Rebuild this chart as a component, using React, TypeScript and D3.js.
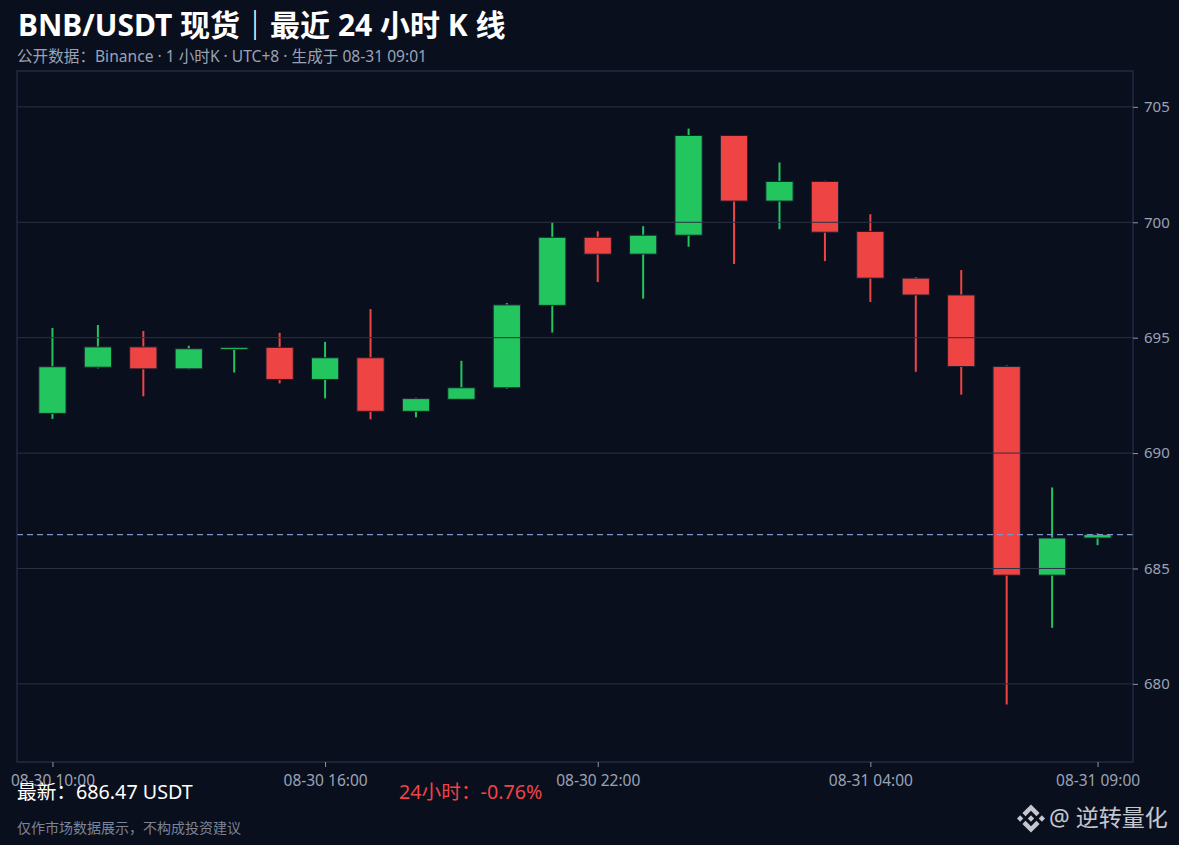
import { useEffect, useMemo, useRef } from 'react';
import * as d3 from 'd3';

const width = 1179;
const height = 845;
const margin = { top: 71, right: 46, bottom: 83, left: 17 };
const font = '"Noto Sans", "Noto Sans CJK SC", sans-serif';

// 1 小时 K 线, 08-30 10:00 ~ 08-31 09:00
const times = [
    '08-30 10:00', '08-30 11:00', '08-30 12:00', '08-30 13:00', '08-30 14:00', '08-30 15:00',
    '08-30 16:00', '08-30 17:00', '08-30 18:00', '08-30 19:00', '08-30 20:00', '08-30 21:00',
    '08-30 22:00', '08-30 23:00', '08-31 00:00', '08-31 01:00', '08-31 02:00', '08-31 03:00',
    '08-31 04:00', '08-31 05:00', '08-31 06:00', '08-31 07:00', '08-31 08:00', '08-31 09:00',
];
const opens = [691.72, 693.72, 694.60, 693.65, 694.51, 694.58, 693.19, 694.13, 691.81, 692.33, 692.83, 696.40,
    699.35, 698.62, 699.44, 703.76, 700.92, 701.77, 699.60, 697.58, 696.85, 693.75, 684.71, 686.32];
const highs = [695.42, 695.55, 695.29, 694.65, 694.60, 695.21, 694.82, 696.24, 692.40, 694.00, 696.50, 700.00,
    699.61, 699.83, 704.06, 703.78, 702.59, 701.80, 700.35, 697.63, 697.93, 693.80, 688.51, 686.52];
const lows = [691.48, 693.67, 692.46, 693.63, 693.49, 693.02, 692.37, 691.46, 691.55, 692.31, 692.79, 695.22,
    697.41, 696.69, 698.94, 698.19, 699.70, 698.32, 696.55, 693.52, 692.53, 679.11, 682.43, 686.01];
const closes = [693.74, 694.60, 693.65, 694.52, 694.58, 693.19, 694.13, 691.81, 692.36, 692.83, 696.42, 699.35,
    698.62, 699.44, 703.76, 700.92, 701.77, 699.57, 697.58, 696.85, 693.75, 684.71, 686.32, 686.47];

const yTickValues = [680, 685, 690, 695, 700, 705];
const xTickLabels = ['08-30 10:00', '08-30 16:00', '08-30 22:00', '08-31 04:00', '08-31 09:00'];

const UP = '#22c55e';
const DOWN = '#ef4444';
const BG = '#0a0f1e';

export default function App() {
    const xAxisRef = useRef<SVGGElement>(null);
    const yAxisRef = useRef<SVGGElement>(null);
    const boundsWidth = width - margin.left - margin.right;
    const boundsHeight = height - margin.top - margin.bottom;

    const candles = times.map((t, i) => ({ t, o: opens[i], h: highs[i], l: lows[i], c: closes[i] }));

    const xScale = useMemo(() => d3.scalePoint<string>()
        .domain(times)
        .range([0, boundsWidth])
        .padding(0.78), [boundsWidth]);

    const yScale = useMemo(() => {
        const lo = d3.min(lows) || 0;
        const hi = d3.max(highs) || 0;
        const pad = (hi - lo) * 0.1;
        return d3.scaleLinear().domain([lo - pad, hi + pad]).range([boundsHeight, 0]);
    }, [boundsHeight]);

    const bodyW = xScale.step() * 0.6;
    const last = closes[closes.length - 1];
    const change = (last / opens[0] - 1) * 100;

    useEffect(() => {
        const gx = d3.select(xAxisRef.current);
        gx.selectAll('*').remove();
        gx.call(d3.axisBottom(xScale).tickValues(xTickLabels).tickSize(5).tickPadding(8));
        gx.select('.domain').remove();
        gx.selectAll('.tick line').attr('stroke', '#8d96aa');
        gx.selectAll('.tick text').attr('fill', '#9aa3b6').style('font-size', '15.5px').style('font-family', font);

        const gy = d3.select(yAxisRef.current);
        gy.selectAll('*').remove();
        gy.call(d3.axisRight(yScale).tickValues(yTickValues).tickSize(5).tickPadding(6));
        gy.select('.domain').remove();
        gy.selectAll('.tick line').attr('stroke', '#8d96aa');
        gy.selectAll('.tick text').attr('fill', '#9aa3b6').style('font-size', '15px').style('font-family', font);
    }, [xScale, yScale]);

    return (
        <svg width={width} height={height} style={{ position: 'absolute', left: 0, top: 0, display: 'block' }}
            fontFamily={font}>
            <rect width={width} height={height} fill={BG} />

            <text x={18} y={36} fill="#ffffff" fontSize={30} fontWeight={700}>BNB/USDT 现货｜最近 24 小时 K 线</text>
            <text x={17} y={62} fill="#9aa3b6" fontSize={15.6}>公开数据：Binance · 1 小时K · UTC+8 · 生成于 08-31 09:01</text>

            <g transform={`translate(${margin.left},${margin.top})`}>
                {candles.map((d) => {
                    const x = xScale(d.t) || 0;
                    const color = d.c >= d.o ? UP : DOWN;
                    const top = yScale(Math.max(d.o, d.c));
                    const bottom = yScale(Math.min(d.o, d.c));
                    return (
                        <g key={d.t}>
                            <line x1={x} x2={x} y1={yScale(d.h)} y2={yScale(d.l)} stroke={color} strokeWidth={2} />
                            <rect x={x - bodyW / 2} y={top} width={bodyW} height={Math.max(bottom - top, 2)}
                                fill={color} stroke="#1c2131" strokeWidth={1} />
                        </g>
                    );
                })}
                {yTickValues.map((v) => (
                    <line key={v} x1={0} x2={boundsWidth} y1={yScale(v)} y2={yScale(v)} stroke="#2b3246" strokeWidth={1} />
                ))}
                <line x1={0} x2={boundsWidth} y1={yScale(last)} y2={yScale(last)}
                    stroke="#7d95c8" strokeWidth={1.3} strokeDasharray="6 4" />
                <rect x={0} y={0} width={boundsWidth} height={boundsHeight} fill="none" stroke="#2e3650" strokeWidth={1} />
                <g ref={xAxisRef} transform={`translate(0,${boundsHeight})`} />
                <g ref={yAxisRef} transform={`translate(${boundsWidth},0)`} />
            </g>

            <text x={17} y={799} fill="#ffffff" fontSize={19.7}>最新：{last.toFixed(2)} USDT</text>
            <text x={399} y={799} fill={DOWN} fontSize={19.7}>24小时：{change.toFixed(2)}%</text>
            <text x={17} y={833} fill="#7c8496" fontSize={14}>仅作市场数据展示，不构成投资建议</text>

            <g opacity={0.85} fill="#e6e8ee">
                <g transform="translate(1017,804.5) scale(0.221)">
                    <path d="M38.73 53.2l24.59-24.58 24.6 24.6 14.3-14.31L63.32 0 24.42 38.9l14.31 14.3zM0 63.31l14.3-14.31 14.31 14.31-14.31 14.3zm38.73 10.11l24.59 24.59 24.6-24.6 14.31 14.29-38.9 38.91-38.91-38.88-.02-.02 14.33-14.29zm59.55-10.11l14.3-14.31 14.31 14.31-14.31 14.3z" />
                    <path d="M77.83 63.3L63.32 48.78 52.59 59.51l-1.24 1.23-2.54 2.54-.02.02.02.03 14.51 14.5 14.51-14.52.01-.01-.01-.01z" />
                </g>
                <text x={1049} y={826} fontSize={23}>@ 逆转量化</text>
            </g>
        </svg>
    );
}
